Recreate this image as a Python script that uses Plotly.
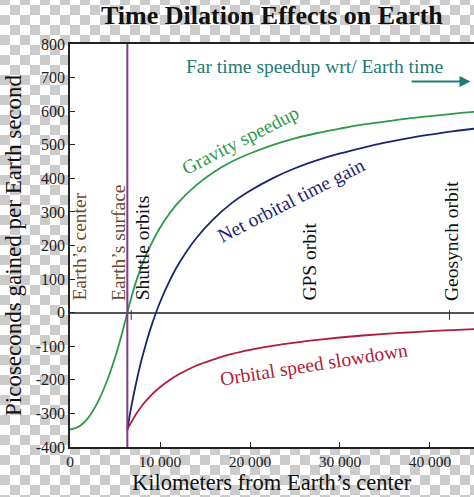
import base64
import plotly.graph_objects as go

# ---------------- data ----------------
earth_radius_km = 6371

gravity_km = [0, 1000, 2000, 3000, 4000, 5000, 5500, 6000, 6200, 6371,
              6500, 6750, 7000, 7500, 8000, 8500, 9000, 10000, 11000, 12000,
              14000, 16000, 18000, 20000, 22500, 25000, 27500, 30000, 32500,
              35000, 37500, 40000, 42500, 45000]
gravity_ps = [-348, -339, -314, -271, -211, -134, -89, -39, -18, 0,
              14, 39, 63, 105, 142, 174, 203, 253, 293, 327,
              379, 419, 450, 474, 499, 519, 535, 548, 560,
              569, 578, 585, 592, 598]

orbit_km = [6371, 6500, 6750, 7000, 7500, 8000, 8500, 9000, 10000, 11000,
            12000, 14000, 16000, 18000, 20000, 22500, 25000, 27500, 30000,
            32500, 35000, 37500, 40000, 42500, 45000]
net_ps = [-348, -327, -289, -254, -191, -135, -87, -43, 31, 91,
          142, 221, 280, 327, 363, 400, 430, 454, 474,
          491, 506, 519, 530, 540, 548]
slowdown_ps = [-348, -341, -329, -317, -296, -277, -261, -246, -222, -202,
               -185, -158, -139, -123, -111, -99, -89, -81, -74,
               -68, -63, -59, -55, -52, -49]

x_ticks = [0, 10000, 20000, 30000, 40000]
x_tick_labels = ["0", "10 000", "20 000", "30 000", "40 000"]
y_ticks = [-400, -300, -200, -100, 0, 100, 200, 300, 400, 500, 600, 700, 800]
y_tick_labels = ["-400", "-300", "-200", "-100", "0", "100", "200", "300",
                 "400", "500", "600", "700", "800"]

marker_names = ["Earth\u2019s center", "Earth\u2019s surface", "Shuttle orbits",
                "GPS orbit", "Geosynch orbit"]
marker_km = [0, 6371, 6800, 26560, 42164]
tick_orbits_km = [6800, 42164]

# ---------------- styling ----------------
W, H = 474, 497
ML, MR, MT, MB = 70, 0, 44, 50
PW, PH = W - ML - MR, H - MT - MB
SERIF = "Liberation Serif"

GREEN = "#2e9a48"
NAVY = "#1c2470"
RED = "#b01c3c"
PURPLE = "#7e3a86"
TEAL = "#227a74"
BROWN = "#6a4a2c"

# checkerboard (transparent-background look) outside the plot area
svg = (
    f"<svg xmlns='http://www.w3.org/2000/svg' width='{W}' height='{H}'>"
    "<defs><pattern id='c' width='20' height='20' patternUnits='userSpaceOnUse' x='0' y='-5'>"
    "<rect width='20' height='20' fill='#ffffff'/>"
    "<rect width='10' height='10' fill='#cccccc'/>"
    "<rect x='10' y='10' width='10' height='10' fill='#cccccc'/>"
    "</pattern></defs>"
    f"<rect width='{W}' height='{H}' fill='url(#c)'/>"
    f"<rect x='{ML}' y='{MT}' width='{PW}' height='{PH}' fill='#ffffff'/>"
    "</svg>"
)
svg_uri = "data:image/svg+xml;base64," + base64.b64encode(svg.encode()).decode()

fig = go.Figure()

fig.add_trace(go.Scatter(x=gravity_km, y=gravity_ps, mode="lines",
                         line=dict(color=GREEN, width=1.8, shape="spline"),
                         name="Gravity speedup", showlegend=False))
fig.add_trace(go.Scatter(x=orbit_km, y=net_ps, mode="lines",
                         line=dict(color=NAVY, width=1.8, shape="spline"),
                         name="Net orbital time gain", showlegend=False))
fig.add_trace(go.Scatter(x=orbit_km, y=slowdown_ps, mode="lines",
                         line=dict(color=RED, width=1.8, shape="spline"),
                         name="Orbital speed slowdown", showlegend=False))
# Earth's surface vertical line
fig.add_trace(go.Scatter(x=[earth_radius_km, earth_radius_km], y=[-400, 800],
                         mode="lines", line=dict(color=PURPLE, width=2),
                         showlegend=False))
# small orbit ticks below the zero line
fig.add_trace(go.Scatter(x=tick_orbits_km, y=[-7] * len(tick_orbits_km),
                         mode="markers",
                         marker=dict(symbol="line-ns", size=7,
                                     line=dict(color="#333333", width=1)),
                         showlegend=False))

annotations = []
# title
annotations.append(dict(xref="paper", yref="paper", x=0.5, y=1 + (MT + 1) / PH,
                        yanchor="top", xanchor="center", showarrow=False,
                        text="<b>Time Dilation Effects on Earth</b>",
                        font=dict(family=SERIF, size=26, color="#111111")))
# axis titles
annotations.append(dict(xref="paper", yref="paper", x=-(ML + 1) / PW, y=0.5,
                        xanchor="left", yanchor="middle", textangle=-90,
                        showarrow=False,
                        text="Picoseconds gained per Earth second",
                        font=dict(family=SERIF, size=23, color="#111111")))
annotations.append(dict(xref="paper", yref="paper", x=0.5, y=-(MB - 0.5) / PH,
                        xanchor="center", yanchor="bottom", showarrow=False,
                        text="Kilometers from Earth\u2019s center",
                        font=dict(family=SERIF, size=22.5, color="#111111")))

# vertical place labels
label_colors = [BROWN, BROWN, "#111111", "#111111", "#111111"]
label_shift = [10, -9, 11, 1, 2]
for name, km, col, sh in zip(marker_names, marker_km, label_colors, label_shift):
    annotations.append(dict(x=km, y=30, xanchor="center", yanchor="bottom",
                            xshift=sh, textangle=-90, showarrow=False, text=name,
                            font=dict(family=SERIF, size=19.5, color=col)))

# curve labels
annotations.append(dict(x=18890, y=514, textangle=-27, showarrow=False,
                        text="Gravity speedup",
                        font=dict(family=SERIF, size=19.5, color=GREEN)))
annotations.append(dict(x=24555, y=335, textangle=-27, showarrow=False,
                        text="Net orbital time gain",
                        font=dict(family=SERIF, size=19.5, color=NAVY)))
annotations.append(dict(x=27110, y=-153, textangle=-9, showarrow=False,
                        text="Orbital speed slowdown",
                        font=dict(family=SERIF, size=19.5, color=RED)))
annotations.append(dict(x=27220, y=734, showarrow=False,
                        text="Far time speedup wrt/ Earth time",
                        font=dict(family=SERIF, size=19.5, color=TEAL)))
# arrow
annotations.append(dict(x=44500, y=688, ax=37800, ay=688, axref="x", ayref="y",
                        showarrow=True, arrowhead=2, arrowsize=1.1, arrowwidth=2,
                        arrowcolor=TEAL, text=""))

fig.update_layout(
    width=W, height=H,
    margin=dict(l=ML, r=MR, t=MT, b=MB, pad=0),
    paper_bgcolor="#ffffff", plot_bgcolor="#ffffff",
    showlegend=False,
    annotations=annotations,
    images=[dict(source=svg_uri, xref="paper", yref="paper",
                 x=-ML / PW, y=1 + MT / PH, sizex=W / PW, sizey=H / PH,
                 xanchor="left", yanchor="top", sizing="stretch", layer="below")],
    xaxis=dict(range=[0, 44890], showgrid=False, zeroline=False,
               showline=True, linecolor="#222222", linewidth=1.5, mirror=True,
               ticks="inside", ticklen=5, tickcolor="#222222",
               tickvals=x_ticks, ticktext=x_tick_labels,
               tickfont=dict(family=SERIF, size=15.5, color="#222222")),
    yaxis=dict(range=[-400, 800], showgrid=False,
               zeroline=True, zerolinecolor="#555555", zerolinewidth=1.5,
               showline=True, linecolor="#222222", linewidth=1.5,
               ticks="inside", ticklen=5, tickcolor="#222222",
               tickvals=y_ticks, ticktext=y_tick_labels,
               tickfont=dict(family=SERIF, size=16, color="#222222")),
)

fig.write_html("out.html")
